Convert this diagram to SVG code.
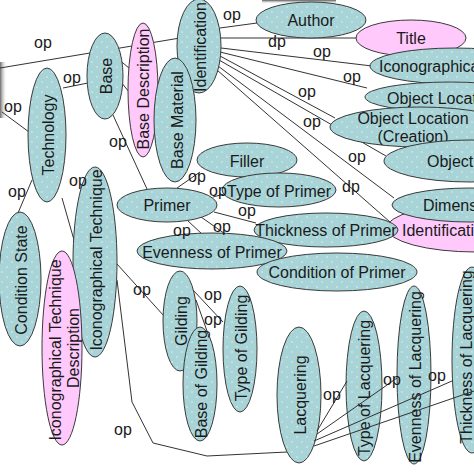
<svg xmlns="http://www.w3.org/2000/svg" width="474" height="474" viewBox="0 0 474 474">
<defs>
<pattern id="dots" width="10" height="10" patternUnits="userSpaceOnUse">
<rect width="10" height="10" fill="#a8d4d8"/>
<circle cx="2" cy="2" r="0.7" fill="#ffffff" fill-opacity="0.8"/>
<circle cx="7" cy="7" r="0.7" fill="#ffffff" fill-opacity="0.8"/>
</pattern>
<linearGradient id="edgeL" x1="0" y1="0" x2="1" y2="0">
<stop offset="0" stop-color="#6a6a6a"/>
<stop offset="1" stop-color="#ffffff" stop-opacity="0"/>
</linearGradient>
<linearGradient id="edgeT" x1="0" y1="0" x2="0" y2="1">
<stop offset="0" stop-color="#555555"/>
<stop offset="1" stop-color="#ffffff" stop-opacity="0"/>
</linearGradient>
</defs>
<style>
.t{fill:url(#dots);stroke:#3a3a3a;stroke-width:1}
.p{fill:#ffc9fc;stroke:#3a3a3a;stroke-width:1}
text{font-family:"Liberation Sans",Arial,sans-serif;font-size:16px;fill:#1a1a1a}
.m{text-anchor:middle}
.c{stroke:#333333;stroke-width:1;fill:none}
.l{text-anchor:middle}
</style>
<rect width="474" height="474" fill="#ffffff"/>
<rect x="0" y="62" width="7" height="56" fill="url(#edgeL)"/>
<rect x="262" y="0" width="74" height="4" fill="url(#edgeT)"/>

<g id="connectors-back">
<path class="c" d="M0,68 L180,38"/>
<path class="c" d="M63,88 L88,83"/>
<path class="c" d="M2,112 L29,132"/>
<path class="c" d="M117,58 L129,68"/>
<path class="c" d="M121,82 L129,92"/>
<path class="c" d="M157,95 L170,105"/>
<path class="c" d="M113,115 L147,189"/>
<path class="c" d="M177,188 L200,172"/>
<path class="c" d="M213,197 L224,194"/>
<path class="c" d="M214,212 L256,223"/>
<path class="c" d="M201,217 L265,262"/>
<path class="c" d="M188,221 L202,234"/>
<path class="c" d="M32,180 L18,213"/>
<path class="c" d="M62,198 L74,240"/>
<path class="c" d="M117,264 L164,316"/>
<path class="c" d="M193,290 L223,322"/>
<path class="c" d="M196,300 L207,331"/>
<path class="c" d="M117,280 L132,402 L153,443 L207,456 L287,452"/>
<path class="c" d="M220,28 L257,23"/>
<path class="c" d="M221,38 L357,38"/>
<path class="c" d="M221,48 L372,66"/>
<path class="c" d="M220,52 L367,88"/>
<path class="c" d="M220,56 L335,118"/>
<path class="c" d="M219,60 L386,156"/>
<path class="c" d="M218,66 L394,198"/>
<path class="c" d="M217,70 L390,222"/>
</g>

<g id="n-author"><ellipse class="t" cx="311" cy="20" rx="55" ry="18"/><text class="m" x="311" y="26">Author</text></g>
<g id="n-title"><ellipse class="p" cx="411" cy="38" rx="55" ry="18"/><text class="m" x="411" y="44">Title</text></g>
<g id="n-iconographical"><ellipse class="t" cx="455" cy="66" rx="85" ry="18"/><text x="379" y="72">Iconographical</text></g>
<g id="n-object-location"><ellipse class="t" cx="450" cy="97" rx="85" ry="15"/><text x="387" y="104">Object Location</text></g>
<g id="n-object-location-creation"><ellipse class="t" cx="420" cy="127" rx="90" ry="20"/><text class="m" x="413" y="124">Object Location</text><text class="m" x="413" y="142">(Creation)</text></g>
<g id="n-object"><ellipse class="t" cx="470" cy="161" rx="86" ry="21"/><text x="427" y="167">Object</text></g>
<g id="n-identification-pink"><ellipse class="p" cx="476" cy="228" rx="89" ry="24"/><text x="402" y="236">Identification</text></g>
<g id="n-dimensions"><ellipse class="t" cx="470" cy="205" rx="78" ry="17"/><text x="423" y="211">Dimensions</text></g>

<g id="n-identification"><ellipse class="t" cx="199" cy="46" rx="22" ry="47"/><text class="m" transform="translate(200,47) rotate(-90)" dy=".35em">Identification</text></g>
<g id="n-base-description"><ellipse class="p" cx="143" cy="90" rx="15" ry="67"/><text class="m" transform="translate(143,89) rotate(-90)" dy=".35em">Base Description</text></g>
<g id="n-base-material"><ellipse class="t" cx="175" cy="120" rx="21" ry="62"/><text class="m" transform="translate(177,120) rotate(-90)" dy=".35em">Base Material</text></g>
<g id="n-base"><ellipse class="t" cx="105" cy="76" rx="18" ry="43"/><text class="m" transform="translate(106,76) rotate(-90)" dy=".35em">Base</text></g>
<g id="n-technology"><ellipse class="t" cx="47" cy="135" rx="19" ry="67"/><text class="m" transform="translate(48,135) rotate(-90)" dy=".35em">Technology</text></g>
<g id="n-condition-state"><ellipse class="t" cx="20" cy="279" rx="21" ry="67"/><text class="m" transform="translate(21,280) rotate(-90)" dy=".35em">Condition State</text></g>
<g id="n-iconographical-technique"><ellipse class="t" cx="95" cy="262" rx="22" ry="95"/><text class="m" transform="translate(96,260) rotate(-90)" dy=".35em">Iconographical Technique</text></g>
<g id="n-iconographical-technique-description"><ellipse class="p" cx="62" cy="348" rx="20" ry="97"/><text class="m" transform="translate(62,350) rotate(-90)" y="-1.5">Iconographical Technique</text><text class="m" transform="translate(62,348) rotate(-90)" y="16.5">Description</text></g>

<g id="n-filler"><ellipse class="t" cx="247" cy="160" rx="50" ry="17"/><text class="m" x="247" y="167">Filler</text></g>
<g id="n-type-of-primer"><ellipse class="t" cx="279" cy="190" rx="57" ry="17"/><text class="m" x="279" y="197">Type of Primer</text></g>
<g id="n-primer"><ellipse class="t" cx="167" cy="205" rx="50" ry="17"/><text class="m" x="167" y="211">Primer</text></g>
<g id="n-thickness-of-primer"><ellipse class="t" cx="326" cy="230" rx="72" ry="17"/><text class="m" x="326" y="236">Thickness of Primer</text></g>
<g id="n-evenness-of-primer"><ellipse class="t" cx="212" cy="251" rx="75" ry="18"/><text class="m" x="212" y="258">Evenness of Primer</text></g>
<g id="n-condition-of-primer"><ellipse class="t" cx="337" cy="272" rx="80" ry="19"/><text class="m" x="337" y="278">Condition of Primer</text></g>

<g id="n-gilding"><ellipse class="t" cx="180" cy="321" rx="17" ry="50"/><text class="m" transform="translate(181,321) rotate(-90)" dy=".35em">Gilding</text></g>
<g id="n-base-of-gilding"><ellipse class="t" cx="200" cy="384" rx="17" ry="57"/><text class="m" transform="translate(201,384) rotate(-90)" dy=".35em">Base of Gilding</text></g>
<g id="n-type-of-gilding"><ellipse class="t" cx="240" cy="349" rx="17" ry="63"/><text class="m" transform="translate(241,348) rotate(-90)" dy=".35em">Type of Gilding</text></g>
<g id="n-lacquering"><ellipse class="t" cx="299" cy="395" rx="22" ry="68"/><text class="m" transform="translate(300,395) rotate(-90)" dy=".35em">Lacquering</text></g>
<g id="n-type-of-lacquering"><ellipse class="t" cx="364" cy="386" rx="18" ry="75"/><text class="m" transform="translate(364,388) rotate(-90)" dy=".35em">Type of Lacquering</text></g>
<g id="n-evenness-of-lacquering"><ellipse class="t" cx="414" cy="375" rx="17" ry="89"/><text class="m" transform="translate(415,377) rotate(-90)" dy=".35em">Evenness of Lacquering</text></g>
<g id="n-thickness-of-lacquering"><ellipse class="t" cx="472" cy="360" rx="20" ry="93"/><text class="m" transform="translate(466,357) rotate(-90)" dy=".35em">Thickness of Lacquering</text></g>

<g id="connectors-front">
<path class="c" d="M317,431 L347,381"/>
<path class="c" d="M317,434 L397,378"/>
<path class="c" d="M314,441 L452,381"/>
<path class="c" d="M314,446 L474,391"/>
</g>

<g id="labels">
<text class="l" x="43" y="48">op</text>
<text class="l" x="72" y="83">op</text>
<text class="l" x="13" y="112">op</text>
<text class="l" x="118" y="147">op</text>
<text class="l" x="197" y="182">op</text>
<text class="l" x="218" y="196">op</text>
<text class="l" x="247" y="216">op</text>
<text class="l" x="222" y="232">op</text>
<text class="l" x="182" y="236">op</text>
<text class="l" x="17" y="197">op</text>
<text class="l" x="78" y="186">op</text>
<text class="l" x="142" y="295">op</text>
<text class="l" x="213" y="300">op</text>
<text class="l" x="213" y="325">op</text>
<text class="l" x="123" y="435">op</text>
<text class="l" x="332" y="400">op</text>
<text class="l" x="392" y="385">op</text>
<text class="l" x="437" y="381">op</text>
<text class="l" x="232" y="20">op</text>
<text class="l" x="277" y="47">dp</text>
<text class="l" x="322" y="57">op</text>
<text class="l" x="352" y="82">op</text>
<text class="l" x="307" y="97">op</text>
<text class="l" x="312" y="127">op</text>
<text class="l" x="357" y="162">op</text>
<text class="l" x="351" y="192">dp</text>
</g>
</svg>
